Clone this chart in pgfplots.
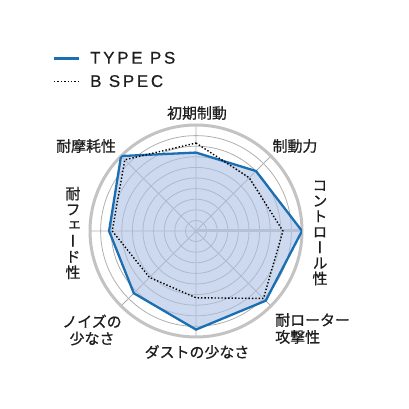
\documentclass[border=0pt]{standalone}
\usepackage{fontspec}
\setmainfont[FakeBold=0.8]{Noto Sans CJK JP}
\newfontfamily\jpv[RawFeature=+vert, FakeBold=0.8]{Noto Sans CJK JP}
\newfontfamily\legfont[LetterSpace=16, FakeBold=0.6]{Liberation Sans}
\usepackage{pgfplots}
\pgfplotsset{compat=1.18}
\usepgfplotslibrary{polar}
\definecolor{psblue}{RGB}{26,110,178}
\definecolor{psfill}{RGB}{172,192,227}
\definecolor{gridgray}{RGB}{175,175,175}
\definecolor{ringgray}{RGB}{195,195,195}
\definecolor{txt}{RGB}{30,30,30}

\begin{document}
\begin{tikzpicture}[x=1bp,y=1bp]
	\useasboundingbox (0,0) rectangle (409,409);
	\begin{polaraxis}[
		at={(196bp,178bp)}, anchor=origin,
		width=212bp, height=212bp, scale only axis,
		ymin=0, ymax=10,
		ytick={1,2,...,9}, yticklabels={},
		xtick={0,45,...,315}, xticklabels={},
		major tick length=0pt,
		grid=major,
		major grid style={gridgray, line width=0.8bp},
		axis line style={ringgray, line width=3bp},
		legend style={at={(-0.19,1.365)}, anchor=north west, draw=none, fill=none,
			font=\legfont\fontsize{17}{19}\selectfont, text=txt, row sep=6bp, column sep=8bp},
		legend cell align=left,
		legend image code/.code={\draw[#1] (0bp,0bp) -- (25bp,0bp);},
	]
		% TYPE PS fill
		\addplot[draw=none, fill=psfill, fill opacity=0.6, forget plot] coordinates {
			(90,7.4) (45,8.0) (0,10) (315,9.3) (270,9.3) (225,8.3) (180,8.2) (135,10) (90,7.4)
		};
		% TYPE PS line
		\addplot[psblue, line width=2.3bp, line join=miter] coordinates {
			(90,7.4) (45,8.0) (0,10) (315,9.3) (270,9.3) (225,8.3) (180,8.2) (135,10) (90,7.4)
		};
		\addlegendentry{TYPE PS}
		% B SPEC
		\addplot[black, line width=1.4bp, dotted] coordinates {
			(90,8.3) (45,7.1) (0,8.2) (315,9.0) (270,6.3) (225,6.2) (180,7.9) (135,9.5) (90,8.3)
		};
		\addlegendentry{B SPEC}
	\end{polaraxis}
	% category labels
	\begin{scope}[every node/.style={inner sep=0pt, text=txt, font=\fontsize{15}{18}\selectfont}]
		\node at (197,296) {初期制動};
		\node at (295,263) {制動力};
		\node[align=center, font=\jpv\fontsize{15}{15.6}\selectfont] at (320,176) {コ\\ン\\ト\\ロ\\ー\\ル\\性};
		\node[align=left, anchor=north west] at (275,96) {耐ローター\\[-1bp]攻撃性};
		\node at (197,57) {ダストの少なさ};
		\node[align=center] at (92,79) {ノイズの\\[-1bp]少なさ};
		\node[align=center, font=\jpv\fontsize{15}{15.8}\selectfont] at (73,176) {耐\\フ\\ェ\\ー\\ド\\性};
		\node at (86,263) {耐摩耗性};
	\end{scope}
\end{tikzpicture}
\end{document}
